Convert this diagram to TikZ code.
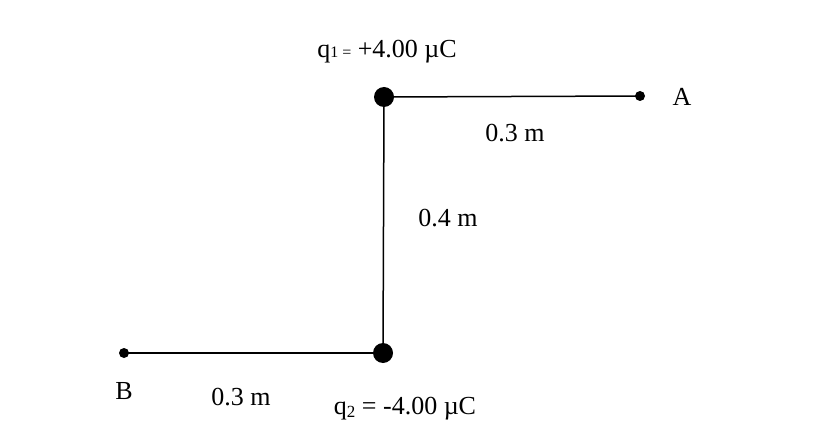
\documentclass[tikz,border=0pt]{standalone}
\usepackage{fontspec}
\setmainfont{Liberation Serif}
\begin{document}
\begin{tikzpicture}[x=1pt,y=-1pt,
  lbl/.style={inner sep=0pt,font=\fontsize{26}{30}\selectfont},
  big/.style={circle,fill=black,inner sep=0pt,minimum size=20pt},
  small/.style={circle,fill=black,inner sep=0pt,minimum size=10pt},
  wire/.style={line width=1.5pt}]
\useasboundingbox (0,0) rectangle (818,446);
\node[big] (q1) at (384,97) {};
\node[big] (q2) at (383,353) {};
\node[small] (A) at (640,96) {};
\node[small] (B) at (124,353) {};
\draw[wire] (q1.center) -- (A.center);
\draw[wire] (q1.center) -- (q2.center);
\draw[wire] (q2.center) -- (B.center);
\node[lbl] (lq1) at (387,52) {q{\fontsize{16}{18}\selectfont 1 =} +4.00 µC};
\node[lbl] (lA) at (682,97) {A};
\node[lbl] (d1) at (515,133) {0.3 m};
\node[lbl] (d2) at (448,218) {0.4 m};
\node[lbl] (lB) at (124,391) {B};
\node[lbl] (d3) at (241,397) {0.3 m};
\node[lbl] (lq2) at (405,409) {q\raisebox{-0.2ex}{\fontsize{17}{19}\selectfont 2} = -4.00 µC};
\end{tikzpicture}
\end{document}
